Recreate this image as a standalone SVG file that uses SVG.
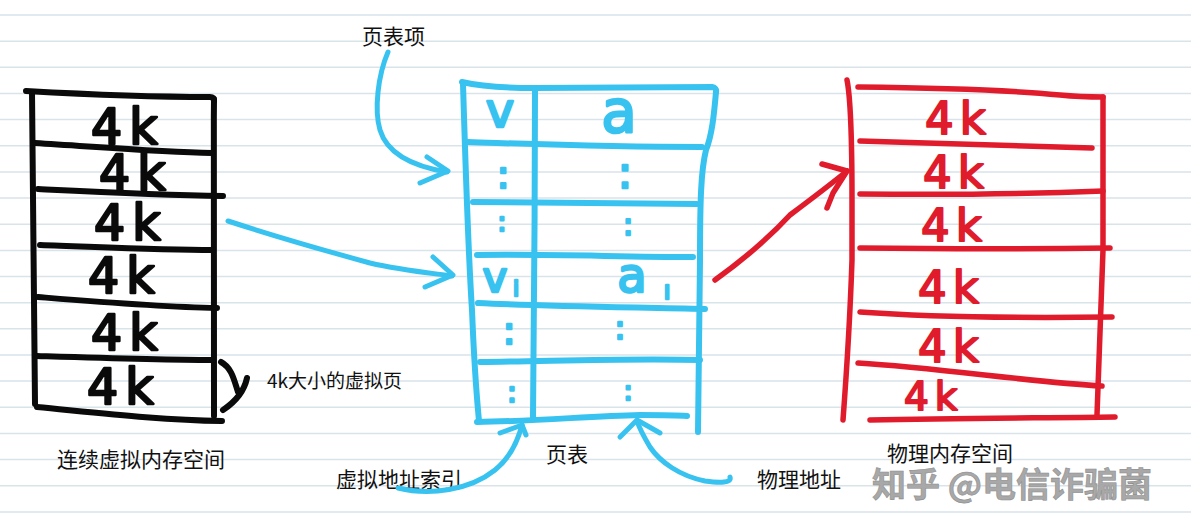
<svg xmlns="http://www.w3.org/2000/svg" width="1191" height="529" viewBox="0 0 1191 529">
<style>
.rule{stroke:#d9e3ea;stroke-width:1.5}
.k{fill:none;stroke:#0a0a0a;stroke-width:6;stroke-linecap:round;stroke-linejoin:round}
.b{fill:none;stroke:#38c2f0;stroke-width:6;stroke-linecap:round;stroke-linejoin:round}
.r{fill:none;stroke:#e01b2c;stroke-width:5.5;stroke-linecap:round;stroke-linejoin:round}
.hk{font-family:"DejaVu Sans",sans-serif;font-size:49px;letter-spacing:7px;fill:#0a0a0a;stroke:#0a0a0a;stroke-width:2.5;stroke-linejoin:round}
.hr{font-family:"DejaVu Sans",sans-serif;font-size:45px;letter-spacing:6px;fill:#e01b2c;stroke:#e01b2c;stroke-width:2;stroke-linejoin:round}
.hb{font-family:"DejaVu Sans",sans-serif;fill:#38c2f0;stroke:#38c2f0;stroke-width:2.5;stroke-linejoin:round;text-anchor:middle}
.lbl{font-family:"Noto Sans CJK SC",sans-serif;font-size:21px;fill:#111}
.wm{font-family:"Noto Sans CJK SC",sans-serif;font-size:34px;font-weight:700;fill:#a8a8a8;stroke:#8e8e8e;stroke-width:0.6}
</style>
<rect width="1191" height="529" fill="#ffffff"/>
<g id="paper">
<line class="rule" x1="0" y1="15" x2="1191" y2="15"/>
<line class="rule" x1="0" y1="41.2" x2="1191" y2="41.2"/>
<line class="rule" x1="0" y1="67.3" x2="1191" y2="67.3"/>
<line class="rule" x1="0" y1="93.5" x2="1191" y2="93.5"/>
<line class="rule" x1="0" y1="119.6" x2="1191" y2="119.6"/>
<line class="rule" x1="0" y1="145.8" x2="1191" y2="145.8"/>
<line class="rule" x1="0" y1="171.9" x2="1191" y2="171.9"/>
<line class="rule" x1="0" y1="198.1" x2="1191" y2="198.1"/>
<line class="rule" x1="0" y1="224.2" x2="1191" y2="224.2"/>
<line class="rule" x1="0" y1="250.4" x2="1191" y2="250.4"/>
<line class="rule" x1="0" y1="276.5" x2="1191" y2="276.5"/>
<line class="rule" x1="0" y1="302.7" x2="1191" y2="302.7"/>
<line class="rule" x1="0" y1="328.8" x2="1191" y2="328.8"/>
<line class="rule" x1="0" y1="355" x2="1191" y2="355"/>
<line class="rule" x1="0" y1="381.1" x2="1191" y2="381.1"/>
<line class="rule" x1="0" y1="407.3" x2="1191" y2="407.3"/>
<line class="rule" x1="0" y1="433.4" x2="1191" y2="433.4"/>
<line class="rule" x1="0" y1="459.6" x2="1191" y2="459.6"/>
<line class="rule" x1="0" y1="485.7" x2="1191" y2="485.7"/>
<line class="rule" x1="0" y1="511.9" x2="1191" y2="511.9"/>
</g>

<g id="virtual-memory">
<path class="k" d="M26,91 C80,94 150,97 210,97 Q214,97 214,101"/>
<path class="k" d="M32,92 C33,200 34,300 35,404"/>
<path class="k" d="M214,99 C213,200 214,300 214,416"/>
<path class="k" d="M35,143 C100,147 160,152 212,153"/>
<path class="k" d="M38,189 C100,192 160,195 223,196"/>
<path class="k" d="M40,245 C100,247 160,250 213,250"/>
<path class="k" d="M38,297 C100,302 160,307 217,308"/>
<path class="k" d="M37,356 C100,358 160,360 213,360"/>
<path class="k" d="M37,407 C100,413 160,420 222,421"/>
<text class="hk" x="91" y="144">4k</text>
<text class="hk" x="99" y="190">4k</text>
<text class="hk" x="94" y="240">4k</text>
<text class="hk" x="88" y="293">4k</text>
<text class="hk" x="91" y="350">4k</text>
<text class="hk" x="87" y="404">4k</text>
<path class="k" d="M221,362 C232,368 234,380 238,392"/>
<path class="k" d="M247,378 C244,392 235,402 223,410"/>
<text class="lbl" x="57" y="466.5">连续虚拟内存空间</text>
</g>

<g id="page-size-label">
<text class="lbl" x="267" y="388" style="font-size:19px">4k大小的虚拟页</text>
</g>

<g id="page-table">
<path class="b" d="M462,82 C475,85 495,88 535,88 L712,87 Q717,88 716,92"/>
<path class="b" d="M463,84 C465,150 468,250 472,310 C474,360 477,400 479,421"/>
<path class="b" d="M535,88 C535,200 534,300 533,418"/>
<path class="b" d="M716,92 C714,115 712,135 706,150 C701,170 700,200 700,260 L698,432"/>
<path class="b" d="M468,142 C530,144 600,147 702,147"/>
<path class="b" d="M473,202 C560,203 630,204 697,204"/>
<path class="b" d="M477,255 C560,254 620,257 693,257"/>
<path class="b" d="M478,303 C540,306 620,307 705,309"/>
<path class="b" d="M480,362 C560,361 630,358 700,360"/>
<path class="b" d="M477,422 C540,421 590,416 640,415 C660,415 675,415 687,416"/>
<text class="hb" x="500" y="127" style="font-size:48px">v</text>
<text class="hb" x="619" y="132" style="font-size:58px">a</text>
<text class="hb" x="503" y="188" style="font-size:39px">:</text>
<text class="hb" x="625" y="188" style="font-size:44px">:</text>
<text class="hb" x="502" y="231" style="font-size:26px">:</text>
<text class="hb" x="628" y="235" style="font-size:30px">:</text>
<text class="hb" x="495" y="292" style="font-size:42px">v</text>
<text class="hb" x="516" y="296" style="font-size:22px">i</text>
<text class="hb" x="632" y="292" style="font-size:48px">a</text>
<text class="hb" x="667" y="299" style="font-size:24px">ı</text>
<text class="hb" x="509" y="344" style="font-size:39px">:</text>
<text class="hb" x="620" y="339" style="font-size:32px">:</text>
<text class="hb" x="512" y="402" style="font-size:29px">:</text>
<text class="hb" x="628" y="400" style="font-size:27px">:</text>
<text class="lbl" x="546" y="461.5">页表</text>
</g>

<g id="physical-memory">
<path class="r" d="M847,80 C851,100 852,140 852,200 L852,260 C850,320 846,380 843,420"/>
<path class="r" d="M858,87 C950,88 1020,91 1060,95 C1080,97 1095,97 1103,97"/>
<path class="r" d="M1103,97 L1103,250 C1102,290 1100,330 1097,415"/>
<path class="r" d="M860,141 C950,143 1030,146 1092,148"/>
<path class="r" d="M860,194 C950,195 1030,194 1103,191"/>
<path class="r" d="M860,248 C950,249 1030,249 1110,248"/>
<path class="r" d="M860,312 C940,318 1030,318 1112,317"/>
<path class="r" d="M858,363 C940,368 1030,382 1102,386"/>
<path class="r" d="M870,420 C960,418 1040,418 1115,417"/>
<text class="hr" x="925" y="134">4k</text>
<text class="hr" x="923" y="188">4k</text>
<text class="hr" x="921" y="241">4k</text>
<text class="hr" x="918" y="303">4k</text>
<text class="hr" x="918" y="362">4k</text>
<text class="hr" x="904" y="410" style="font-size:39px">4k</text>
<text class="lbl" x="887" y="460.5">物理内存空间</text>
</g>

<g id="labels">
<text class="lbl" x="362" y="44">页表项</text>
<text class="lbl" x="336" y="486.5">虚拟地址索引</text>
<text class="lbl" x="757" y="486.5">物理地址</text>
</g>

<g id="connectors">
<path class="b" style="stroke-width:5" d="M388,52 C378,75 374,110 380,130 C386,150 405,165 447,172"/>
<path class="b" style="stroke-width:5" d="M427,157 L448,171 L420,183"/>
<path class="b" style="stroke-width:5" d="M228,221 C280,238 330,252 370,263 C400,270 430,273 452,276"/>
<path class="b" style="stroke-width:5" d="M433,257 L453,275 L425,287"/>
<path class="b" style="stroke-width:5" d="M398,488 C430,496 470,490 495,470 C510,458 518,440 522,425"/>
<path class="b" style="stroke-width:5" d="M500,433 L522,425 L526,435"/>
<path class="b" style="stroke-width:5" d="M730,477 C732,483 720,483 705,481 C680,476 660,462 650,447 C644,437 640,430 637,421"/>
<path class="b" style="stroke-width:5" d="M620,437 L637,420 L660,433"/>
<path class="r" d="M715,280 C740,262 765,242 790,215 C810,200 830,185 847,171"/>
<path class="r" d="M822,164 L847,171 L833,193 L827,208"/>
</g>

<g id="watermark">
<text class="wm" x="872" y="497">知乎 @电信诈骗菌</text>
</g>
</svg>
